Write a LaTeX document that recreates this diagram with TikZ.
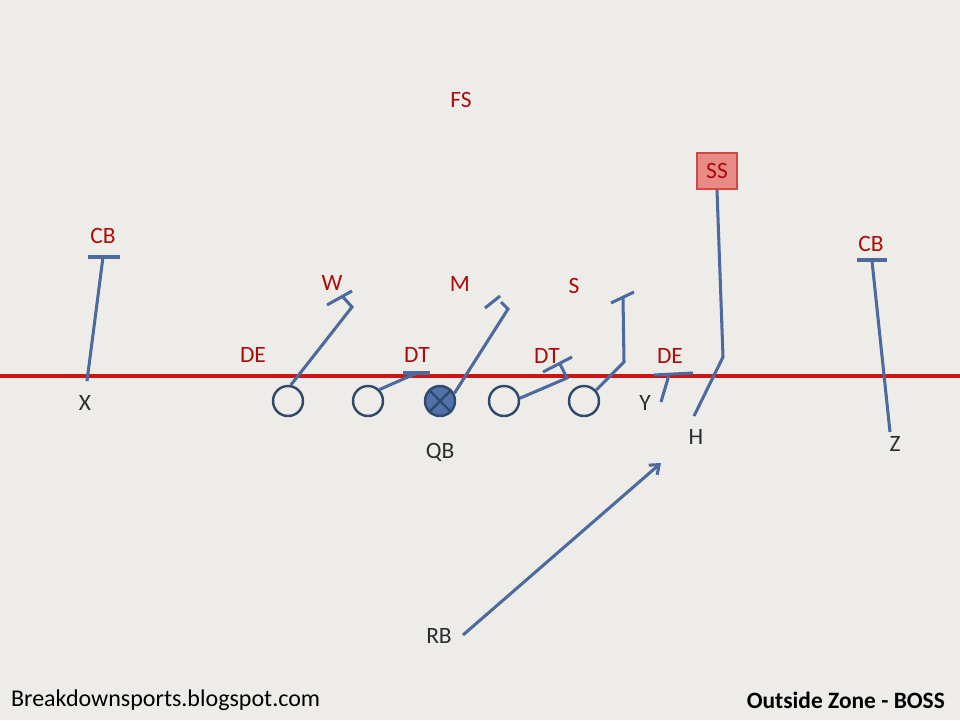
\documentclass[tikz,border=0pt]{standalone}
\usepackage{fontspec}
\setmainfont{Carlito}
\usetikzlibrary{arrows.meta}
\definecolor{fieldbg}{RGB}{238,236,233}
\definecolor{losred}{RGB}{204,22,22}
\definecolor{defred}{RGB}{172,12,12}
\definecolor{offgray}{RGB}{45,45,48}
\definecolor{routeblue}{RGB}{76,106,158}
\definecolor{olblue}{RGB}{48,74,108}
\definecolor{cfill}{RGB}{82,112,170}
\definecolor{ssfill}{RGB}{232,138,134}
\definecolor{ssline}{RGB}{214,70,66}

\begin{document}
\begin{tikzpicture}[x=0.03cm, y=-0.03cm,
    route/.style={draw=routeblue, line width=2.6pt},
    lineman/.style={circle, draw=olblue, line width=2.1pt, minimum size=0.9cm, inner sep=0pt},
    dlabel/.style={text=defred, font=\fontsize{20}{22}\selectfont},
    olabel/.style={text=offgray, font=\fontsize{20}{22}\selectfont},
    ssbox/.style={draw=ssline, fill=ssfill, line width=1.8pt, minimum width=1.2cm, minimum height=1.08cm, inner sep=0pt, text=defred, font=\fontsize{20}{22}\selectfont}]
  % background and line of scrimmage
  \fill[fieldbg] (0,0) rectangle (960,720);
  \useasboundingbox (0,0) rectangle (960,720);
  \coordinate (losl) at (0,376);
  \coordinate (losr) at (960,376);
  \draw[losred, line width=2.6pt] (losl) -- (losr);

  % defense
  \node[dlabel] (fs) at (461,100) {FS};
  \node[ssbox] (ss) at (717,171) {SS};
  \node[dlabel] (cbl) at (103,236) {CB};
  \node[dlabel] (cbr) at (871,244) {CB};
  \node[dlabel] (w) at (332,283) {W};
  \node[dlabel] (m) at (460,284) {M};
  \node[dlabel] (s) at (574,286) {S};
  \node[dlabel] (del) at (253,355) {DE};
  \node[dlabel] (dtl) at (417,355) {DT};
  \node[dlabel] (dtr) at (547,356) {DT};
  \node[dlabel] (der) at (670,356) {DE};

  % offense
  \node[lineman] (lt) at (288,401) {};
  \node[lineman] (lg) at (368,401) {};
  \node[lineman, fill=cfill] (c) at (440,401) {};
  \node[lineman] (rg) at (504,401) {};
  \node[lineman] (rt) at (584,401) {};
  \draw[olblue, line width=2.1pt] (c.45) -- (c.225) (c.135) -- (c.315);
  \node[olabel] (x) at (85,403) {X};
  \node[olabel] (y) at (645,403) {Y};
  \node[olabel] (h) at (696,437) {H};
  \node[olabel] (z) at (895,444) {Z};
  \node[olabel] (qb) at (440,452) {QB};
  \node[olabel] (rb) at (439,636) {RB};

  % route points
  \coordinate (xs) at (87,381);
  \coordinate (xe) at (103,257);
  \coordinate (xbl) at (88,257);
  \coordinate (xbr) at (120,257);
  \coordinate (zs) at (890,432);
  \coordinate (ze) at (872,261);
  \coordinate (zbl) at (857,260);
  \coordinate (zbr) at (887,260);
  \coordinate (ltk) at (352,307);
  \coordinate (lte) at (343,297);
  \coordinate (ltbl) at (327,305);
  \coordinate (ltbr) at (352,291);
  \coordinate (lge) at (417,373);
  \coordinate (lgbl) at (403,373);
  \coordinate (lgbr) at (430,373);
  \coordinate (ck) at (508,309);
  \coordinate (ce) at (501,302);
  \coordinate (cbl2) at (485,308);
  \coordinate (cbr2) at (500,296);
  \coordinate (rgk) at (567,378);
  \coordinate (rge) at (560,364);
  \coordinate (rgbl) at (543,372);
  \coordinate (rgbr) at (572,357);
  \coordinate (rtk) at (624,362);
  \coordinate (rte) at (623,298);
  \coordinate (rtbl) at (611,303);
  \coordinate (rtbr) at (634,292);
  \coordinate (ys) at (661,402);
  \coordinate (ye) at (669,375);
  \coordinate (ybl) at (654,375);
  \coordinate (ybr) at (693,373);
  \coordinate (hs) at (694,416);
  \coordinate (hk) at (723,357);
  \coordinate (rbs) at (463,635);
  \coordinate (rbe) at (661,463);

  % routes
  \draw[route] (xs) -- (xe);
  \draw[route] (xbl) -- (xbr);
  \draw[route] (zs) -- (ze);
  \draw[route] (zbl) -- (zbr);
  \draw[route] (lt.80) -- (ltk) -- (lte);
  \draw[route] (ltbl) -- (ltbr);
  \draw[route] (lg.45) -- (lge);
  \draw[route] (lgbl) -- (lgbr);
  \draw[route] (c.28) -- (ck) -- (ce);
  \draw[route] (cbl2) -- (cbr2);
  \draw[route] (rg.10) -- (rgk) -- (rge);
  \draw[route] (rgbl) -- (rgbr);
  \draw[route] (rt.42) -- (rtk) -- (rte);
  \draw[route] (rtbl) -- (rtbr);
  \draw[route] (ys) -- (ye);
  \draw[route] (ybl) -- (ybr);
  \draw[route] (hs) -- (hk) -- (ss.south);
  \draw[route, -{Straight Barb[length=7pt, width=11pt]}] (rbs) -- (rbe);

  % footer
  \node[anchor=west, text=black, font=\fontsize{20.5}{22}\selectfont] (site) at (7,700) {Breakdownsports.blogspot.com};
  \node[anchor=east, text=black, font=\fontsize{20}{22}\selectfont\bfseries] (title) at (949,700) {Outside Zone - BOSS};
\end{tikzpicture}
\end{document}
